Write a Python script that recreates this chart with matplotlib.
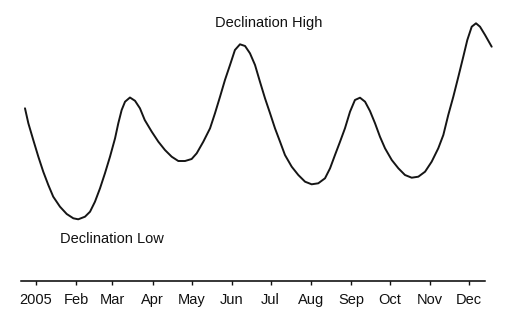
import matplotlib
matplotlib.use("Agg")
import matplotlib.pyplot as plt

# day of year 2005 (0 = Jan 1) and relative declination value
days = [-8.5, -5.9, -2.1, 1.8, 5.6, 9.5, 13.3, 18.5, 23.7, 28.8, 32.6, 37.8,
        41.7, 45.5, 49.4, 53.2, 57.1, 61.0, 63.5, 66.1, 68.7, 72.5, 76.4, 80.2,
        83.9, 89.3, 94.4, 99.5, 104.7, 109.8, 115.0, 120.1, 124.0, 129.1, 134.3,
        138.1, 142.0, 145.8, 149.7, 153.5, 157.4, 161.3, 165.1, 169.0, 172.8,
        176.7, 180.6, 184.4, 188.3, 192.1, 197.3, 202.4, 207.6, 212.7, 217.8,
        223.0, 226.9, 230.7, 234.6, 238.4, 242.3, 246.1, 250.0, 253.9, 257.7,
        261.6, 265.4, 269.3, 274.5, 279.6, 284.7, 289.9, 295.0, 300.2, 305.3,
        310.4, 314.3, 318.1, 322.0, 325.9, 329.7, 332.8, 336.2, 339.5, 342.6,
        346.5, 351.6]
values = [172.7, 157.7, 141, 124.3, 109.3, 96, 84.3, 74.3, 67, 62.7, 61.7, 64.3,
          69.3, 79.3, 92.7, 107.7, 124.3, 142.7, 157.7, 171, 179.3, 183.5, 180.2, 172.7,
          161, 149.3, 139.3, 131, 124.3, 120, 120, 122, 127.7, 139.3, 152.7,
          167.7, 184.3, 201, 216, 231, 236.7, 235, 227.7, 216, 199.3,
          182.7, 167.7, 152.7, 139.3, 126, 114.3, 106, 99.3, 96.7, 97.7,
          102.7, 112.7, 126, 139.3, 152.7, 169.3, 181, 183.3, 179.3, 170,
          157.7, 144.3, 132.7, 121, 112.7, 106, 103.3, 104.3, 109.3, 119.3,
          132.7, 146, 166, 184.3, 204.3, 224.3, 241, 254.3, 257.7, 254.3,
          246, 234.3]

tick_days = [0, 31, 59, 90, 120, 151, 181, 212, 243, 273, 304, 334]
tick_labels = ["2005", "Feb", "Mar", "Apr", "May", "Jun", "Jul", "Aug",
               "Sep", "Oct", "Nov", "Dec"]

high_label = "Declination High"
low_label = "Declination Low"

plt.rcParams['font.family'] = ['Liberation Sans', 'DejaVu Sans']

fig = plt.figure(figsize=(5.3, 3.26), dpi=100)
ax = fig.add_axes([0, (326 - 281) / 326, 1, 281 / 326])
px_per_day = 1.296
x0 = (0 - 36) / px_per_day
x1 = (530 - 36) / px_per_day
ax.set_xlim(x0, x1)
ax.set_ylim(0, 281)

ax.plot(days, values, color="#151515", linewidth=1.4,
        solid_joinstyle="round", solid_capstyle="round")

ax.text(179.8, 258, high_label, ha="center", va="center", fontsize=10.5, color="#111")
ax.text(58.3, 42, low_label, ha="center", va="center", fontsize=10.5, color="#111")

for s in ["top", "left", "right"]:
    ax.spines[s].set_visible(False)
ax.spines["bottom"].set_bounds((21 - 36) / px_per_day, (485 - 36) / px_per_day)
ax.spines["bottom"].set_linewidth(1.1)
ax.set_yticks([])
ax.set_xticks(tick_days)
ax.set_xticklabels(tick_labels, fontsize=10.5)
ax.tick_params(axis="x", length=3, width=1, pad=5.5, colors="#111")

fig.savefig("out.png", dpi=100)
